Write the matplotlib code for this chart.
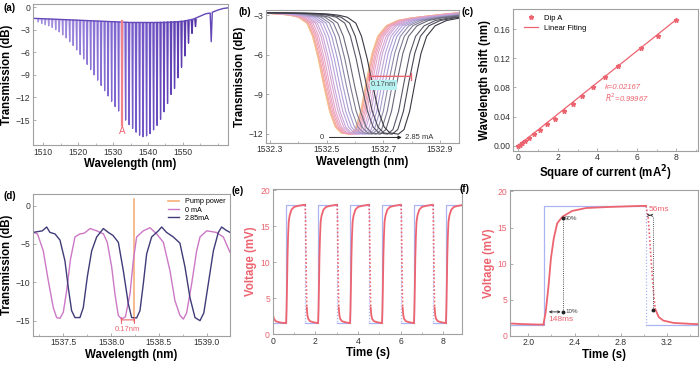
import numpy as np
import matplotlib
matplotlib.use('Agg')
import matplotlib.pyplot as plt
from matplotlib.colors import LinearSegmentedColormap
from matplotlib.ticker import MultipleLocator, FormatStrFormatter

plt.rcParams['font.family'] = ['Liberation Sans', 'DejaVu Sans']

# ---------------- data ----------------
# (a) comb spectrum: dip centres, dip tops and dip bottoms (dB)
a_dip_nm = [1508.6, 1509.6, 1510.6, 1511.6, 1512.6, 1513.6, 1514.6, 1515.6, 1516.6, 1517.6,
            1518.6, 1519.6, 1520.6, 1521.6, 1522.6, 1523.6, 1524.6, 1525.6, 1526.6, 1527.6,
            1528.6, 1529.6, 1530.6, 1531.6, 1532.6, 1533.6, 1534.6, 1535.6, 1536.6, 1537.6,
            1538.6, 1539.6, 1540.6, 1541.6, 1542.6, 1543.6, 1544.6, 1545.6, 1546.6, 1547.6,
            1548.6, 1549.6, 1550.6, 1551.6, 1552.6, 1553.6]
a_dip_top = [-1.55, -1.57, -1.6, -1.62, -1.64, -1.66, -1.68, -1.7, -1.72, -1.74,
             -1.76, -1.78, -1.8, -1.82, -1.84, -1.86, -1.88, -1.9, -1.92, -1.94,
             -1.96, -1.98, -2.0, -2.02, -2.04, -2.06, -2.08, -2.1, -2.1, -2.1,
             -2.1, -2.1, -2.1, -2.08, -2.06, -2.04, -2.02, -2.0, -1.98, -1.96,
             -1.94, -1.9, -1.85, -1.8, -1.7, -1.6]
a_dip_db = [-2.0, -2.2, -2.35, -2.5, -2.7, -3.0, -3.3, -3.7, -4.1, -4.6,
            -5.1, -5.7, -6.3, -6.9, -7.6, -8.3, -9.0, -9.7, -10.4, -11.1,
            -11.8, -12.5, -13.2, -13.8, -14.6, -15.0, -15.6, -16.1, -16.6, -17.0,
            -17.2, -17.1, -16.8, -16.3, -15.7, -14.9, -13.9, -12.8, -11.6, -10.8,
            -9.4, -8.0, -6.5, -4.8, -3.5, -2.6]
a_base_nm = [1507.0, 1515.0, 1525.0, 1535.0, 1545.0, 1550.0, 1553.0, 1555.0, 1556.5,
             1557.8, 1558.1, 1558.4, 1560.0, 1561.5, 1563.0]
a_base_db = [-1.5, -1.65, -1.85, -2.05, -2.05, -1.9, -1.6, -1.2, -0.9,
             -0.8, -4.6, -0.7, -0.4, -0.2, -0.1]
a_mark_nm = 1532.6

# (b) dip A spectrum at zero current, and the shift for each current step
b_nm = [1532.10, 1532.28, 1532.33, 1532.37, 1532.40, 1532.43, 1532.45, 1532.47, 1532.49, 1532.51,
        1532.53, 1532.55, 1532.58, 1532.60, 1532.62, 1532.64, 1532.66, 1532.68, 1532.71, 1532.75,
        1532.80, 1532.86, 1532.92, 1532.97]
b_db = [-2.8, -2.85, -2.9, -3.0, -3.15, -3.6, -4.6, -6.3, -8.4, -10.3,
        -11.5, -11.95, -12.05, -11.7, -10.3, -8.0, -5.9, -4.6, -3.8, -3.4,
        -3.2, -3.05, -2.9, -2.8]
b_shift = [0.0, 0.001, 0.003, 0.006, 0.011, 0.016, 0.022, 0.030, 0.037, 0.047,
           0.057, 0.068, 0.080, 0.094, 0.109, 0.134, 0.151, 0.173]
b_colors = ['#f7cf8a', '#f6c092', '#f5b39c', '#f3a7a6', '#f0a0b2', '#eaa0bf', '#e2a2c9',
            '#d6a4d2', '#caa4d8', '#bea2da', '#b29fd8', '#a59bcf', '#8f8aaa', '#7c7a90',
            '#6a6878', '#5a5866', '#4a4854', '#3a3842']

# (c) wavelength shift vs square of current
c_x = [0.0, 0.1, 0.2, 0.35, 0.55, 0.8, 1.1, 1.45, 1.85, 2.3, 2.75, 3.25, 3.8, 4.4, 5.05, 6.2, 7.05, 8.0]
c_y = [0.0, 0.001, 0.003, 0.006, 0.011, 0.016, 0.022, 0.030, 0.037, 0.047, 0.057, 0.068,
       0.080, 0.094, 0.109, 0.134, 0.151, 0.173]
c_k = 0.02167
c_fit_x = [0.0, 8.0]

# (d) spectra at 0 mA and 2.85 mA
d0_nm = [1537.186, 1537.23, 1537.29, 1537.343, 1537.395, 1537.43, 1537.465, 1537.5, 1537.535,
         1537.575, 1537.622, 1537.674, 1537.72, 1537.78, 1537.85, 1537.92, 1537.96, 1538.006,
         1538.04, 1538.075, 1538.11, 1538.15, 1538.198, 1538.232, 1538.267, 1538.337, 1538.407,
         1538.477, 1538.547, 1538.616, 1538.668, 1538.72, 1538.756, 1538.79, 1538.843, 1538.895,
         1538.93, 1539.0, 1539.1, 1539.174, 1539.244]
d0_db = [-3.5, -3.7, -5.9, -9.8, -13.3, -14.6, -14.7, -13.9, -11.1, -7.0, -4.1, -3.7, -3.6,
         -3.0, -3.3, -3.7, -4.8, -8.0, -11.5, -14.3, -14.8, -14.5, -11.5, -7.2, -4.1, -3.3,
         -2.9, -3.7, -4.8, -8.5, -12.4, -14.3, -14.8, -14.0, -10.2, -5.9, -4.1, -3.3, -3.5,
         -4.1, -6.1]
d1_nm = [1537.186, 1537.28, 1537.326, 1537.36, 1537.413, 1537.465, 1537.517, 1537.552, 1537.587,
         1537.622, 1537.674, 1537.709, 1537.751, 1537.797, 1537.849, 1537.919, 1537.97, 1538.02,
         1538.076, 1538.128, 1538.18, 1538.215, 1538.267, 1538.302, 1538.337, 1538.372, 1538.424,
         1538.494, 1538.529, 1538.58, 1538.651, 1538.72, 1538.773, 1538.825, 1538.878, 1538.93,
         1538.97, 1539.017, 1539.07, 1539.122, 1539.157, 1539.2, 1539.244]
d1_db = [-3.5, -3.3, -2.8, -3.5, -3.7, -4.5, -7.2, -10.7, -13.7, -14.6, -14.6, -13.3, -9.3,
         -5.9, -4.1, -3.0, -3.5, -3.9, -4.8, -8.5, -12.8, -14.6, -14.65, -13.7, -10.2, -6.3,
         -4.1, -3.3, -2.8, -3.5, -4.1, -4.9, -8.0, -12.0, -14.6, -15.0, -14.0, -10.2, -5.9,
         -3.5, -2.8, -3.2, -3.5]
d_pump_nm = 1538.243

# (e)/(f) modulation (square wave) and detector voltage
e_rise = [0.63, 2.13, 3.63, 5.13, 6.63, 8.13]
e_fall = [-0.09, 1.52, 3.02, 4.52, 6.02, 7.52]
sq_low, sq_high = 1.5, 18.0
sq_rise_shift = 0.009
rise_dt = [0.0, 0.02, 0.045, 0.065, 0.09, 0.12, 0.165, 0.25, 0.37, 0.57, 0.86]
rise_v = [1.55, 3.3, 7.0, 10.7, 13.5, 15.6, 16.5, 17.3, 17.7, 17.85, 18.0]
fall_dt = [0.0, 0.02, 0.04, 0.06, 0.08, 0.11, 0.15, 0.24, 0.4, 0.55]
fall_v = [18.0, 16.3, 11.6, 7.0, 3.7, 2.6, 2.1, 1.77, 1.63, 1.55]

RED = '#ec6470'
SQ = '#aab4f2'

# ---------------- helpers ----------------
fig = plt.figure(figsize=(7, 3.68), dpi=100)
W, H = 700.0, 368.0


def box(l, r, t, b):
    return [l / W, 1 - b / H, (r - l) / W, (b - t) / H]


def style(ax, ycol='#333333'):
    for s in ax.spines.values():
        s.set_color('#a0a0a0')
        s.set_linewidth(0.8)
    ax.tick_params(which='major', direction='in', length=2.5, width=0.6, colors='#a0a0a0',
                   labelsize=6.2, pad=2)
    ax.tick_params(which='minor', direction='in', length=1.5, width=0.5, colors='#a0a0a0')
    ax.tick_params(axis='x', labelcolor='#333333')
    ax.tick_params(axis='y', labelcolor=ycol)


LBL = dict(fontsize=8.3, fontweight='bold')


def panel(x, y, s):
    fig.text(x / W, 1 - y / H, s, fontsize=7, fontweight='bold', va='center', ha='left')


# ---------------- (a) ----------------
axa = fig.add_axes(box(33, 228, 4, 145))
cmap_a = LinearSegmentedColormap.from_list('pa', ['#a996e2', '#8c74d6', '#7256c8', '#5534a6'])
n = len(a_dip_nm)
for i, (c, top, d) in enumerate(zip(a_dip_nm, a_dip_top, a_dip_db)):
    col = cmap_a(i / (n - 1))
    alpha = 0.18 + 0.32 * i / (n - 1)
    axa.fill([c - 0.5, c - 0.18, c + 0.18, c + 0.5], [top, d, d, top], color=col,
             alpha=alpha, lw=0)
    axa.plot([c - 0.12, c, c + 0.12], [top, d, top], color=col, lw=0.9)
axa.plot(a_base_nm, a_base_db, color='#6448b8', lw=1.0)
axa.plot([a_mark_nm, a_mark_nm], [-1.8, -15.6], color='#f38088', lw=1.6)
axa.text(a_mark_nm, -16.5, 'A', color=RED, fontsize=7, ha='center', va='center')
axa.set_xlim(1507.1, 1562.9)
axa.set_ylim(-18.3, 0.4)
axa.set_xticks([1510, 1520, 1530, 1540, 1550])
axa.set_yticks([0, -3, -6, -9, -12, -15])
axa.xaxis.set_minor_locator(MultipleLocator(5))
style(axa)
axa.set_xlabel('Wavelength (nm)', labelpad=1, **LBL)
axa.set_ylabel('Transmission (dB)', labelpad=2, **LBL)
panel(4, 8, '(a)')

# ---------------- (b) ----------------
axb = fig.add_axes(box(266, 458.7, 10, 142.7))
bx = np.array(b_nm)
for s, col in zip(b_shift, b_colors):
    axb.plot(bx + s, b_db, color=col, lw=0.8)
axb.annotate('', xy=(1532.806, -7.65), xytext=(1532.641, -7.65),
             arrowprops=dict(arrowstyle='|-|', color=RED, lw=1.0, mutation_scale=2.5))
axb.text(1532.7, -8.3, '0.17nm', fontsize=5.5, color='#555555', ha='center', va='center',
         bbox=dict(boxstyle='square,pad=0.15', fc='#b6f1f1', ec='none'))
axb.text(1532.483, -12.3, '0', fontsize=5.5, ha='center', va='center', color='#333333')
axb.annotate('', xy=(1532.775, -12.3), xytext=(1532.5, -12.3),
             arrowprops=dict(arrowstyle='-|>', color='#222222', lw=0.7, mutation_scale=5))
axb.text(1532.778, -12.3, '2.85 mA', fontsize=5.5, ha='left', va='center', color='#333333')
axb.set_xlim(1532.286, 1532.966)
axb.set_ylim(-12.7, -2.6)
axb.set_xticks([1532.3, 1532.5, 1532.7, 1532.9])
axb.xaxis.set_major_formatter(FormatStrFormatter('%.1f'))
axb.xaxis.set_minor_locator(MultipleLocator(0.1))
axb.set_yticks([-3, -6, -9, -12])
style(axb)
axb.set_xlabel('Wavelength (nm)', labelpad=1, **LBL)
axb.set_ylabel('Transmission (dB)', labelpad=2, **LBL)
panel(238, 12, '(b)')

# ---------------- (c) ----------------
axc = fig.add_axes(box(513.3, 698, 9.3, 150.7))
axc.plot(c_x, c_y, linestyle='none', marker='*', ms=3.5, color=RED, label='Dip A')
axc.plot(c_fit_x, [c_k * v for v in c_fit_x], color=RED, lw=0.9, label='Linear Fiting')
axc.text(4.4, 0.080, 'k=0.02167', color=RED, fontsize=5.5, style='italic', va='center')
axc.text(4.4, 0.066, r'$R^2$=0.99967', color=RED, fontsize=5.5, style='italic', va='center')
axc.legend(loc='upper left', fontsize=5.5, frameon=False, handlelength=1.8,
           borderaxespad=0.3, labelspacing=0.3, bbox_to_anchor=(0.03, 1.0))
axc.set_xlim(-0.25, 9.1)
axc.set_ylim(-0.0069, 0.1875)
axc.set_xticks([0, 2, 4, 6, 8])
axc.xaxis.set_minor_locator(MultipleLocator(1))
axc.set_yticks([0.0, 0.04, 0.08, 0.12, 0.16])
axc.yaxis.set_major_formatter(FormatStrFormatter('%.2f'))
style(axc)
axc.set_xlabel('Square of current (mA$^{\\mathbf{2}}$)', labelpad=1, **LBL)
axc.set_ylabel('Wavelength shift (nm)', labelpad=2, **LBL)
panel(461, 12, '(c)')

# ---------------- (d) ----------------
axd = fig.add_axes(box(33.3, 230, 194, 335.7))
axd.plot([d_pump_nm, d_pump_nm], [-15.0, 0.9], color='#f4b07a', lw=1.2, label='Pump power')
axd.plot(d0_nm, d0_db, color='#cc78c6', lw=1.0, label='0 mA')
axd.plot(d1_nm, d1_db, color='#3f3b78', lw=1.0, label='2.85mA')
axd.annotate('', xy=(1538.267, -14.9), xytext=(1538.075, -14.9),
             arrowprops=dict(arrowstyle='|-|', color=RED, lw=0.8, mutation_scale=2))
axd.text(1538.17, -16.1, '0.17nm', color=RED, fontsize=5.5, ha='center', va='center')
axd.legend(loc='upper right', fontsize=5.2, frameon=False, handlelength=1.6,
           borderaxespad=0.2, labelspacing=0.15)
axd.set_xlim(1537.186, 1539.244)
axd.set_ylim(-16.96, 1.5)
axd.set_xticks([1537.5, 1538.0, 1538.5, 1539.0])
axd.xaxis.set_major_formatter(FormatStrFormatter('%.1f'))
axd.xaxis.set_minor_locator(MultipleLocator(0.25))
axd.set_yticks([0, -5, -10, -15])
style(axd)
axd.set_xlabel('Wavelength (nm)', labelpad=1, **LBL)
axd.set_ylabel('Transmission (dB)', labelpad=2, **LBL)
panel(3, 196, '(d)')


# ---------------- (e) / (f) ----------------
def draw_voltage(ax, t0, t1):
    # square wave: lows/highs and rising edges solid, falling edges dotted
    events = sorted([(r + sq_rise_shift, 'r') for r in e_rise] + [(f, 'f') for f in e_fall])
    xs, ys = [t0], [sq_low]
    level = sq_low
    for t, kind in events:
        if kind == 'r':
            xs += [t, t]
            ys += [level, sq_high]
            level = sq_high
        else:
            xs += [t, np.nan, t]
            ys += [level, np.nan, sq_low]
            ax.plot([t, t], [sq_high, sq_low], color=SQ, lw=0.9, ls=(0, (1, 1.5)))
            level = sq_low
    xs.append(t1)
    ys.append(level)
    ax.plot(xs, ys, color=SQ, lw=0.9)
    # detector voltage
    events = sorted([(r, 'r') for r in e_rise] + [(f, 'f') for f in e_fall])
    for i, (t, kind) in enumerate(events):
        nxt = events[i + 1][0] if i + 1 < len(events) else t1 + 1
        if kind == 'r':
            tt = [t + d for d in rise_dt if t + d < nxt] + [nxt]
            vv = [v for d, v in zip(rise_dt, rise_v) if t + d < nxt] + [rise_v[-1]]
            ax.plot(tt, vv, color=RED, lw=1.3)
        else:
            tt = [t + d for d in fall_dt]
            ax.plot(tt[:5], fall_v[:5], color=RED, lw=1.2, ls=(0, (1, 1.3)))
            ax.plot(tt[4:] + [nxt], fall_v[4:] + [fall_v[-1]], color=RED, lw=1.3)
    ax.set_ylim(0, 20.2)
    ax.set_yticks([0, 5, 10, 15, 20])


axe = fig.add_axes(box(272.7, 462.3, 189, 334))
draw_voltage(axe, -0.5, 9.5)
axe.set_xlim(0, 8.9)
axe.set_xticks([0, 2, 4, 6, 8])
axe.xaxis.set_minor_locator(MultipleLocator(1))
style(axe, ycol=RED)
axe.set_xlabel('Time (s)', labelpad=1, **LBL)
axe.set_ylabel('Voltage (mV)', labelpad=2, color=RED, **LBL)
panel(232, 191, '(e)')

axf = fig.add_axes(box(510, 698.3, 190, 335.7))
draw_voltage(axf, -0.5, 9.5)
axf.plot([2.304, 2.304], [3.3, 16.3], color='#555555', lw=0.7, ls=(0, (1, 1.2)))
axf.plot([3.084, 3.084], [3.6, 16.6], color='#555555', lw=0.7, ls=(0, (1, 1.2)))
axf.plot([2.304, 2.304, 3.084], [16.3, 3.3, 3.6], 'o', color='#222222', ms=1.8)
axf.annotate('', xy=(2.304, 3.3), xytext=(2.153, 3.3),
             arrowprops=dict(arrowstyle='<->', color='#222222', lw=0.6, mutation_scale=4))
axf.annotate('', xy=(3.084, 16.7), xytext=(3.027, 16.7),
             arrowprops=dict(arrowstyle='<->', color='#222222', lw=0.6, mutation_scale=4))
axf.text(2.315, 16.3, '90%', fontsize=4.5, color='#444444', va='center')
axf.text(2.318, 3.3, '10%', fontsize=4.5, color='#444444', va='center')
axf.text(2.17, 2.3, '148ms', fontsize=6, color=RED, va='center')
axf.text(3.04, 17.5, '56ms', fontsize=6, color=RED, va='center')
axf.set_xlim(1.84, 3.474)
axf.set_xticks([2.0, 2.4, 2.8, 3.2])
axf.xaxis.set_major_formatter(FormatStrFormatter('%.1f'))
axf.xaxis.set_minor_locator(MultipleLocator(0.2))
style(axf, ycol=RED)
axf.set_xlabel('Time (s)', labelpad=1, **LBL)
axf.set_ylabel('Voltage (mV)', labelpad=2, color=RED, **LBL)
panel(460, 189, '(f)')

fig.savefig('out.png', dpi=100)
